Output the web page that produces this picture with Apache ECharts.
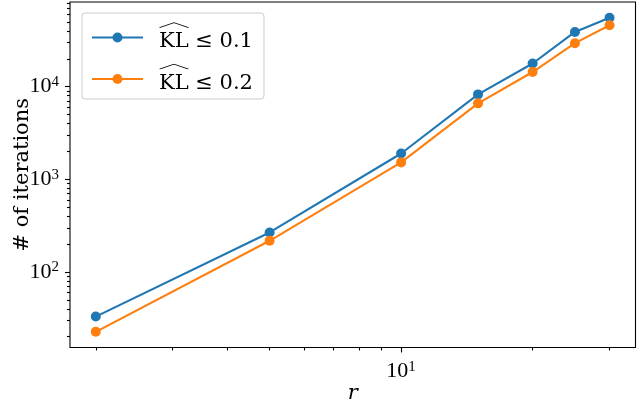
<!DOCTYPE html>
<html><head><meta charset="utf-8">
<script src="https://cdn.jsdelivr.net/npm/echarts@6/dist/echarts.min.js"></script>
<style>html,body{margin:0;padding:0;background:#fff}#c{width:639px;height:405px}</style>
</head><body><div id="c"></div>
<script>
const rValues = [2, 5, 10, 15, 20, 25, 30];
const itersKL01 = [33, 267, 1900, 8260, 17800, 39000, 55600];
const itersKL02 = [22.6, 217, 1524, 6610, 14400, 29500, 46000];
const seriesNames = ['KL ≤ 0.1', 'KL ≤ 0.2'];
const xMajorTicks = [10];
const xMinorTicks = [2, 3, 4, 5, 6, 7, 8, 9, 20, 30];
const yMajorTicks = [100, 1000, 10000];
const yMinorTicks = [20, 30, 40, 50, 60, 70, 80, 90,
  200, 300, 400, 500, 600, 700, 800, 900,
  2000, 3000, 4000, 5000, 6000, 7000, 8000, 9000,
  20000, 30000, 40000, 50000, 60000, 70000, 80000];
const xRange = [1.746, 34.4];
const yRange = [15.3, 82100];

const colors = ['#1f77b4', '#ff7f0e'];
const hatSvg = 'data:image/svg+xml;charset=utf-8,' + encodeURIComponent(
  '<svg xmlns="http://www.w3.org/2000/svg" width="30" height="7" viewBox="0 0 30 7">' +
  '<polyline points="0.5,6.5 15,0.8 29.5,6.5" fill="none" stroke="#000" stroke-width="1.1"/></svg>');
const tickLabelRich = {
  b: { fontFamily: 'Liberation Serif', fontSize: 22, color: '#000', lineHeight: 24 },
  sup: { fontFamily: 'Liberation Serif', fontSize: 15, color: '#000', verticalAlign: 'top', lineHeight: 16 }
};
const powLabel = v => '{b|10}{sup|' + Math.round(Math.log10(v)) + '}';

function pairs(xs, ys) { return xs.map((x, i) => [x, ys[i]]); }

const chart = echarts.init(document.getElementById('c'), null, { renderer: 'canvas' });
const tickStyle = { color: '#000', width: 1.1 };
chart.setOption({
  animation: false,
  backgroundColor: '#fff',
  grid: { left: 70, right: 3.5, top: 2, bottom: 57.5, containLabel: false, outerBoundsMode: 'none',
    show: true, borderColor: '#000', borderWidth: 1.1, backgroundColor: 'transparent' },
  legend: {
    orient: 'vertical', left: 82, top: 13,
    padding: [6, 11, 5, 9],
    itemWidth: 51, itemHeight: 12.5, itemGap: 8,
    backgroundColor: 'rgba(255,255,255,0.8)', borderColor: '#cccccc', borderWidth: 1, borderRadius: 3,
    data: seriesNames,
    formatter: name => '{sp| }{hat| }\n{t|' + name + '}',
    textStyle: {
      rich: {
        sp: { width: 11, height: 6, lineHeight: 9 },
        hat: { width: 30, height: 6, lineHeight: 9, backgroundColor: { image: hatSvg } },
        t: { fontFamily: 'DejaVu Serif', fontSize: 21, lineHeight: 25, padding: [0, 0, 0, 11], color: '#000' }
      }
    }
  },
  xAxis: [{
    type: 'log', logBase: 10, min: xRange[0], max: xRange[1], position: 'bottom',
    name: 'r', nameLocation: 'middle', nameGap: 36, nameMoveOverlap: false,
    nameTextStyle: { fontFamily: 'DejaVu Serif', fontStyle: 'italic', fontSize: 21, color: '#000' },
    axisLine: { show: false },
    splitLine: { show: false },
    axisTick: { show: true, customValues: xMajorTicks, length: 5, inside: false, lineStyle: tickStyle },
    axisLabel: { customValues: xMajorTicks, formatter: powLabel, rich: tickLabelRich, margin: 12 }
  }, {
    type: 'log', logBase: 10, min: xRange[0], max: xRange[1], position: 'bottom',
    axisLine: { show: false }, splitLine: { show: false },
    axisTick: { show: true, customValues: xMinorTicks, length: 3, inside: false, lineStyle: tickStyle },
    axisLabel: { show: false }
  }],
  yAxis: [{
    type: 'log', logBase: 10, min: yRange[0], max: yRange[1], position: 'left',
    name: '# of iterations', nameLocation: 'middle', nameGap: 37, nameMoveOverlap: false,
    nameTextStyle: { fontFamily: 'DejaVu Serif', fontSize: 21, color: '#000' },
    axisLine: { show: false },
    splitLine: { show: false },
    axisTick: { show: true, customValues: yMajorTicks, length: 5, inside: false, lineStyle: tickStyle },
    axisLabel: { customValues: yMajorTicks, formatter: powLabel, rich: tickLabelRich, margin: 11 }
  }, {
    type: 'log', logBase: 10, min: yRange[0], max: yRange[1], position: 'left',
    axisLine: { show: false }, splitLine: { show: false },
    axisTick: { show: true, customValues: yMinorTicks, length: 3, inside: false, lineStyle: tickStyle },
    axisLabel: { show: false }
  }],
  series: [
    { name: seriesNames[0], type: 'line', data: pairs(rValues, itersKL01), color: colors[0],
      symbol: 'circle', symbolSize: 10, showSymbol: true, lineStyle: { width: 2.1 }, itemStyle: { color: colors[0] }, z: 3 },
    { name: seriesNames[1], type: 'line', data: pairs(rValues, itersKL02), color: colors[1],
      symbol: 'circle', symbolSize: 10, showSymbol: true, lineStyle: { width: 2.1 }, itemStyle: { color: colors[1] }, z: 3 }
  ]
});
</script></body></html>
